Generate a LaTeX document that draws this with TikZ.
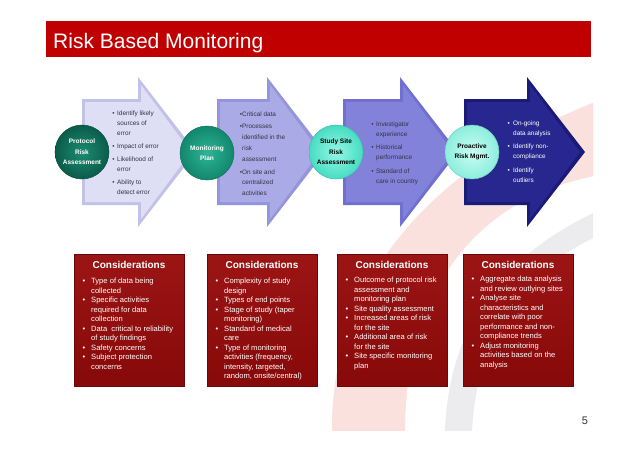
\documentclass[tikz,border=0pt]{standalone}
\usepackage{fontspec}
\setmainfont{Liberation Sans}
\usetikzlibrary{shadows}
\definecolor{titlered}{HTML}{C00000}
\definecolor{boxred}{HTML}{870909}
\definecolor{boxtop}{HTML}{9C1515}
\definecolor{swpink}{HTML}{FAE1DD}
\definecolor{swgrey}{HTML}{ECECEF}
\definecolor{aoA}{HTML}{C2C2E8}
\definecolor{aiA}{HTML}{DEDEF5}
\definecolor{aoB}{HTML}{9595DC}
\definecolor{aiB}{HTML}{AAAAE6}
\definecolor{aoC}{HTML}{7070D0}
\definecolor{aiC}{HTML}{8282DA}
\definecolor{aoD}{HTML}{1A1A78}
\definecolor{aiD}{HTML}{27278F}
\definecolor{arrtext}{HTML}{333344}
\definecolor{cAi}{HTML}{1C8C72}
\definecolor{cAo}{HTML}{0A5C4A}
\definecolor{cBi}{HTML}{2DB596}
\definecolor{cBo}{HTML}{12876D}
\definecolor{cCi}{HTML}{93F7E6}
\definecolor{cCo}{HTML}{48DCC2}
\definecolor{cDi}{HTML}{CAFDF4}
\definecolor{cDo}{HTML}{8CEEDD}
\newcommand\abul{\llap{\textbullet\hspace{2.6pt}}}
\newcommand\dbul{\llap{\textbullet\hspace{3.4pt}}}
\newcommand\bbul{\llap{\textbullet\hspace{6pt}}}
\newcommand\rbmArrow[5]{%
  \fill[#4] (#1,99) -- (#2,99) -- (#2,77) -- (#3,152) -- (#2,227) -- (#2,205) -- (#1,205) -- cycle;
  \fill[#5] (#1+3,102) -- (#2+3,102) -- (#2+3,85) -- (#3-5,152) -- (#2+3,219) -- (#2+3,202) -- (#1+3,202) -- cycle;
}
\begin{document}
\begin{tikzpicture}[x=1pt,y=-1pt,
  circ/.style={circle, minimum size=54pt, inner sep=0pt, shading=radial, align=center,
     font=\fontsize{6.5}{10.5}\selectfont\bfseries},
  arrtxt/.style={anchor=north west, inner sep=0pt, align=left, text=arrtext,
     font=\fontsize{6.4}{10}\selectfont},
  cbox/.style={rectangle, minimum width=110pt, minimum height=132pt, inner sep=0pt,
     top color=boxtop, bottom color=boxred, draw=boxred!80!black, line width=0.4pt,
     drop shadow={shadow xshift=1.2pt, shadow yshift=-1.2pt, opacity=0.25}},
  ctitle/.style={anchor=base, inner sep=0pt, text=white, font=\fontsize{10}{12}\selectfont\bfseries},
  citems/.style={anchor=north west, inner sep=0pt, align=left, text=white,
     font=\fontsize{7.6}{9.5}\selectfont}]
\useasboundingbox (0,0) rectangle (638,451);
\fill[white] (0,0) rectangle (638,451);

% background swooshes
\begin{scope}
\clip (0,0) rectangle (593,430);
\fill[swpink] (332,432) .. controls (330,290) and (420,170) .. (600,100)
   -- (600,175) .. controls (460,200) and (405,310) .. (405,432) -- cycle;
\fill[swgrey] (445,432) .. controls (448,330) and (500,255) .. (600,210)
   -- (600,235) .. controls (520,270) and (476,340) .. (472,432) -- cycle;
\end{scope}

% title bar
\fill[titlered] (46,21) rectangle (591,57);
\node[anchor=base west, inner sep=0pt, text=white, font=\fontsize{21}{24}\selectfont] (title) at (53,48) {Risk Based Monitoring};

% arrows
\rbmArrow{82}{138}{196}{aoA}{aiA}
\rbmArrow{217}{267}{325}{aoB}{aiB}
\rbmArrow{343}{400}{458}{aoC}{aiC}
\rbmArrow{464}{527}{585}{aoD}{aiD}

% arrow texts
\node[arrtxt] (t1) at (117,110.3) {\abul Identify likely\\sources of\\error\\[3pt]\abul Impact of error\\[3pt]\abul Likelihood of\\error\\[3pt]\abul Ability to\\detect error};
\node[arrtxt, font=\fontsize{6.4}{10.8}\selectfont] (t2) at (242,111.3) {\llap{\textbullet}Critical data\\[2pt]\llap{\textbullet}Processes\\identified in the\\risk\\assessment\\[2pt]\llap{\textbullet}On site and\\centralized\\activities};
\node[arrtxt] (t3) at (376,121.3) {\abul Investigator\\experience\\[3.5pt]\abul Historical\\performance\\[3.5pt]\abul Standard of\\care in country};
\node[arrtxt, text=white] (t4) at (513,120.3) {\dbul On-going\\data analysis\\[3.5pt]\dbul Identify non-\\compliance\\[3.5pt]\dbul Identify\\outliers};

% circles
\node[circ, inner color=cAi, outer color=cAo, draw=cAo!85!black, line width=0.5pt, text=white] (c1) at (82,152) {Protocol\\Risk\\Assessment};
\node[circ, inner color=cBi, outer color=cBo, draw=cBo!85!black, line width=0.5pt, text=white] (c2) at (207,153) {Monitoring\\Plan};
\node[circ, inner color=cCi, outer color=cCo, draw=cCo!85!black, line width=0.5pt, text=black] (c3) at (336,152) {Study Site\\Risk\\Assessment};
\node[circ, inner color=cDi, outer color=cDo, draw=cDo!85!black, line width=0.5pt, text=black] (c4) at (472,152) {Proactive\\Risk Mgmt.};

% consideration boxes
\node[cbox] (b1) at (129,320) {};
\node[cbox] (b2) at (262,320) {};
\node[cbox] (b3) at (392,320) {};
\node[cbox] (b4) at (518,320) {};

\node[ctitle] (h1) at (129,268.6) {Considerations};
\node[ctitle] (h2) at (262,268.6) {Considerations};
\node[ctitle] (h3) at (392,268.6) {Considerations};
\node[ctitle] (h4) at (518,268.2) {Considerations};

\node[citems] (i1) at (91,278) {\bbul Type of data being\\collected\\\bbul Specific activities\\required for data\\collection\\\bbul Data\ \ critical to reliability\\of study findings\\\bbul Safety concerns\\\bbul Subject protection\\concerns};
\node[citems] (i2) at (224,278) {\bbul Complexity of study\\design\\\bbul Types of end points\\\bbul Stage of study (taper\\monitoring)\\\bbul Standard of medical\\care\\\bbul Type of monitoring\\activities (frequency,\\intensity, targeted,\\random, onsite/central)};
\node[citems] (i3) at (354,277) {\bbul Outcome of protocol risk\\assessment and\\monitoring plan\\\bbul Site quality assessment\\\bbul Increased areas of risk\\for the site\\\bbul Additional area of risk\\for the site\\\bbul Site specific monitoring\\plan};
\node[citems] (i4) at (480,276) {\bbul Aggregate data analysis\\and review outlying sites\\\bbul Analyse site\\characteristics and\\correlate with poor\\performance and non-\\compliance trends\\\bbul Adjust monitoring\\activities based on the\\analysis};

% page number
\node[anchor=base, inner sep=0pt, text=black!80, font=\fontsize{11}{13}\selectfont] (pg) at (585,424) {5};
\end{tikzpicture}
\end{document}
